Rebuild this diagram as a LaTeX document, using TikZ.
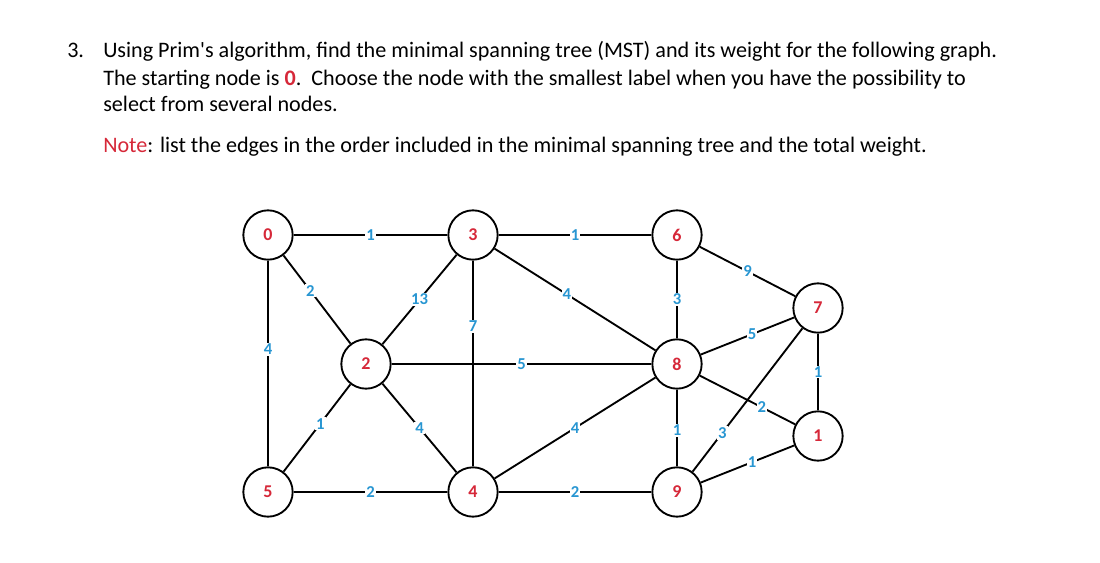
\documentclass[tikz,border=0pt]{standalone}
\usepackage{fontspec}
\setmainfont{Carlito}[Ligatures=TeXOff]
\usetikzlibrary{positioning}
\definecolor{nodered}{RGB}{214,40,57}
\definecolor{wblue}{RGB}{40,150,210}
\tikzset{
  vertex/.style={circle, draw, line width=1.4pt, fill=white, minimum size=37pt, inner sep=0pt,
    text=nodered, font=\rmfamily\bfseries\fontsize{13.5}{14}\selectfont},
  edge/.style={line width=1.4pt},
  w/.style={fill=white, inner sep=0.8pt, text=wblue, font=\rmfamily\bfseries\fontsize{12.5}{13}\selectfont},
  line/.style={anchor=base west, inner sep=0pt, font=\fontsize{16.6}{18}\selectfont}
}
\begin{document}
\begin{tikzpicture}[x=0.75pt, y=-0.75pt]
\useasboundingbox (0,0) rectangle (1100,563);
% question text
\node[line] at (67,58) {3.};
\node[line] (l1) at (103,58) {Using Prim's algorithm, find the minimal spanning tree (MST) and its weight for the following graph.};
\node[line] (l2) at (103,86) {The starting node is \textbf{\color{nodered}0}.\ \ Choose the node with the smallest label when you have the possibility to};
\node[line] (l3) at (103,112) {select from several nodes.};
\node[line] (l4) at (103,153) {\textcolor{nodered}{Note}: list the edges in the order included in the minimal spanning tree and the total weight.};
% vertices
\node[vertex] (v0) at (268,235) {0};
\node[vertex] (v3) at (473,235) {3};
\node[vertex] (v6) at (677,235) {6};
\node[vertex] (v7) at (818,308) {7};
\node[vertex] (v2) at (366,364) {2};
\node[vertex] (v8) at (677,364) {8};
\node[vertex] (v1) at (818,436) {1};
\node[vertex] (v5) at (268,492) {5};
\node[vertex] (v4) at (473,492) {4};
\node[vertex] (v9) at (677,492) {9};
% edges
\draw[edge] (v2) -- (v8) node[w, pos=0.5] {5};
\draw[edge] (v3) -- (v4) node[w, pos=0.32] {7};
\draw[edge] (v0) -- (v3) node[w, pos=0.5] {1};
\draw[edge] (v3) -- (v6) node[w, pos=0.5] {1};
\draw[edge] (v0) -- (v5) node[w, pos=0.43] {4};
\draw[edge] (v0) -- (v2) node[w, pos=0.4] {2};
\draw[edge] (v3) -- (v2) node[w, pos=0.5] {13};
\draw[edge] (v3) -- (v8) node[w, pos=0.45] {4};
\draw[edge] (v6) -- (v8) node[w, pos=0.5] {3};
\draw[edge] (v6) -- (v7) node[w, pos=0.5] {9};
\draw[edge] (v8) -- (v7) node[w, pos=0.55] {5};
\draw[edge] (v7) -- (v1) node[w, pos=0.5] {1};
\draw[edge] (v2) -- (v5) node[w, pos=0.45] {1};
\draw[edge] (v2) -- (v4) node[w, pos=0.5] {4};
\draw[edge] (v4) -- (v8) node[w, pos=0.5] {4};
\draw[edge] (v8) -- (v1) node[w, pos=0.65] {2};
\draw[edge] (v8) -- (v9) node[w, pos=0.53] {1};
\draw[edge] (v9) -- (v7) node[w, pos=0.27] {3};
\draw[edge] (v9) -- (v1) node[w, pos=0.55] {1};
\draw[edge] (v5) -- (v4) node[w, pos=0.5] {2};
\draw[edge] (v4) -- (v9) node[w, pos=0.5] {2};
\end{tikzpicture}
\end{document}
